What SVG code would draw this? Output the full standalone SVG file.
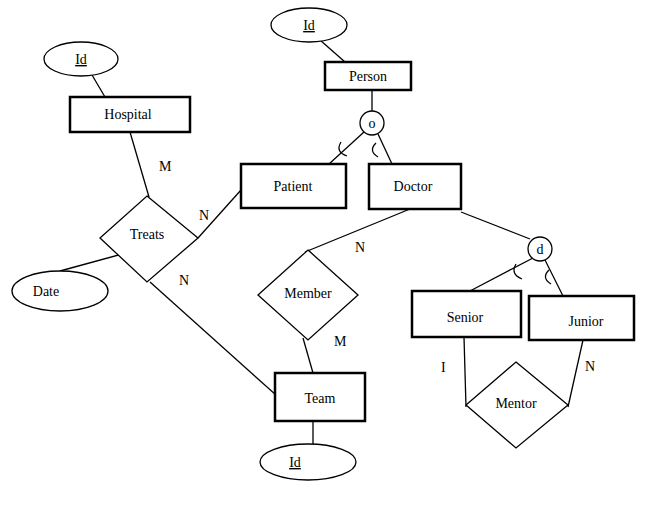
<svg xmlns="http://www.w3.org/2000/svg" width="671" height="506" viewBox="0 0 671 506">
<style>
.e{fill:#fff;stroke:#000;stroke-width:1.3}
.r{fill:#fff;stroke:#000;stroke-width:2.5}
.l{stroke:#000;stroke-width:1.3;fill:none}
text{font-family:"Liberation Serif",serif;font-size:14px;fill:#000}
.c{text-anchor:middle}
</style>
<rect width="671" height="506" fill="#fff"/>
<g id="connectors">
<line class="l" x1="320" y1="40" x2="345" y2="62"/>
<line class="l" x1="372" y1="90" x2="372" y2="111"/>
<line class="l" x1="364" y1="132" x2="329" y2="164"/>
<line class="l" x1="378" y1="134" x2="392" y2="164"/>
<path class="l" d="M341,142 q-6,10 6,14"/>
<path class="l" d="M376,143 q-8,8 2,14"/>
<line class="l" x1="92" y1="75" x2="105" y2="97"/>
<line class="l" x1="130" y1="132" x2="149" y2="197"/>
<line class="l" x1="198" y1="238" x2="241" y2="190"/>
<line class="l" x1="60" y1="271" x2="122" y2="254"/>
<line class="l" x1="150" y1="282" x2="276" y2="395"/>
<line class="l" x1="313" y1="421" x2="313" y2="444"/>
<line class="l" x1="305" y1="252" x2="410" y2="209"/>
<line class="l" x1="303" y1="338" x2="313" y2="373"/>
<line class="l" x1="461" y1="212" x2="530" y2="239"/>
<line class="l" x1="533" y1="258" x2="470" y2="291"/>
<line class="l" x1="545" y1="260" x2="563" y2="296"/>
<path class="l" d="M516,264 q-6,10 6,15"/>
<path class="l" d="M549,270 q-8,8 2,14"/>
<line class="l" x1="464" y1="337" x2="466" y2="407"/>
<line class="l" x1="583" y1="340" x2="568" y2="407"/>
</g>
<g id="person-id"><ellipse class="e" cx="309" cy="25" rx="38" ry="17"/><text class="c" x="309" y="30" text-decoration="underline">Id</text></g>
<g id="person"><rect class="r" x="325" y="62" width="86" height="28"/><text class="c" x="368" y="81">Person</text></g>
<g id="o"><circle class="e" cx="372" cy="123" r="12"/><text class="c" x="372" y="128">o</text></g>
<g id="patient"><rect class="r" x="241" y="164" width="105" height="44"/><text class="c" x="293" y="191">Patient</text></g>
<g id="doctor"><rect class="r" x="369" y="164" width="92" height="45"/><text class="c" x="413" y="191">Doctor</text></g>
<g id="hospital-id"><ellipse class="e" cx="81" cy="59" rx="37" ry="17"/><text class="c" x="81" y="64" text-decoration="underline">Id</text></g>
<g id="hospital"><rect class="r" x="70" y="97" width="120" height="35"/><text class="c" x="128" y="119">Hospital</text></g>
<g id="treats"><polygon class="e" points="147,196 198,238 147,282 100,238" stroke-width="2"/><text class="c" x="147" y="239">Treats</text></g>
<g id="date"><ellipse class="e" cx="60" cy="291" rx="48" ry="20"/><text class="c" x="46" y="296">Date</text></g>
<g id="member"><polygon class="e" points="308,250 358,295 308,340 258,295" stroke-width="2"/><text class="c" x="308" y="298">Member</text></g>
<g id="team"><rect class="r" x="275" y="373" width="90" height="48"/><text class="c" x="320" y="403">Team</text></g>
<g id="team-id"><ellipse class="e" cx="308" cy="462" rx="48" ry="18"/><text class="c" x="295" y="467" text-decoration="underline">Id</text></g>
<g id="d"><circle class="e" cx="540" cy="249" r="12"/><text class="c" x="540" y="254">d</text></g>
<g id="senior"><rect class="r" x="412" y="291" width="109" height="46"/><text class="c" x="465" y="322">Senior</text></g>
<g id="junior"><rect class="r" x="529" y="296" width="105" height="44"/><text class="c" x="586" y="326">Junior</text></g>
<g id="mentor"><polygon class="e" points="516,362 568,405 516,448 466,405" stroke-width="2"/><text class="c" x="516" y="408">Mentor</text></g>
<g id="labels">
<text x="159" y="171">M</text><text x="199" y="220">N</text><text x="179" y="285">N</text>
<text x="355" y="252">N</text><text x="334" y="346">M</text>
<text x="441" y="372">I</text><text x="585" y="371">N</text>
</g>
</svg>
